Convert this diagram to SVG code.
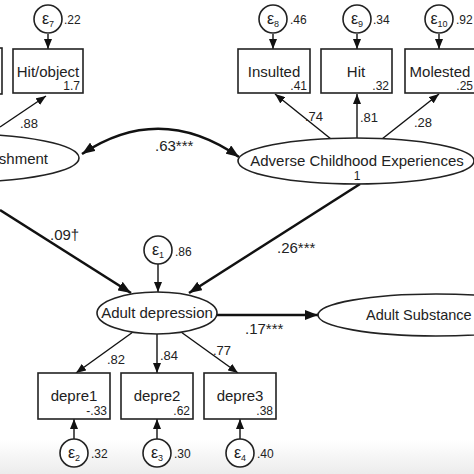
<svg xmlns="http://www.w3.org/2000/svg" width="474" height="474" viewBox="0 0 474 474">
<style>
text{font-family:"Liberation Sans",Arial,sans-serif;fill:#222}
.lbl{font-size:15px;text-anchor:middle}
.num{font-size:12px;text-anchor:end}
.el{font-size:13px}
.big{font-size:15px}
.var{font-size:12px}
.box{fill:#fff;stroke:#222;stroke-width:1.6}
.ell{fill:#fff;stroke:#222;stroke-width:1.6}
.err{fill:#fff;stroke:#222;stroke-width:1.6}
.eps{font-size:16px;text-anchor:middle}
.thin{fill:none;stroke:#111;stroke-width:1.4;marker-end:url(#ah)}
.thick{fill:none;stroke:#111;stroke-width:2.6;marker-end:url(#ahb)}
</style>
<defs>
<marker id="ah" viewBox="0 0 10 8" refX="10" refY="4" markerWidth="10" markerHeight="8" markerUnits="userSpaceOnUse" orient="auto"><path d="M0,0 L10,4 L0,8 z" fill="#111"/></marker>
<marker id="ahb" viewBox="0 0 13 10" refX="13" refY="5" markerWidth="13" markerHeight="10" markerUnits="userSpaceOnUse" orient="auto-start-reverse"><path d="M0,0 L13,5 L0,10 z" fill="#111"/></marker>
<linearGradient id="bg" x1="0" y1="0" x2="0" y2="1"><stop offset="0" stop-color="#fff"/><stop offset="1" stop-color="#ececec"/></linearGradient>
</defs>
<rect x="0" y="440" width="474" height="34" fill="url(#bg)"/>

<g id="connectors">
<path class="thin" d="M0,127 L46,96"/>
<path class="thick" d="M82,154 Q160,102 239,157" style="marker-start:url(#ahb)"/>
<path class="thin" d="M331,139 L275,94"/>
<path class="thin" d="M357,138 L357,94"/>
<path class="thin" d="M382,139 L439,94"/>
<path class="thin" d="M48,34 L48,49"/>
<path class="thin" d="M273,34 L273,49"/>
<path class="thin" d="M357,34 L357,49"/>
<path class="thin" d="M439,34 L439,49"/>
<path class="thick" d="M0,210 L131,293"/>
<path class="thick" d="M360,184 L189,293"/>
<path class="thin" d="M158,264 L158,292"/>
<path class="thick" d="M217,315 L318,315"/>
<path class="thin" d="M133,332 L76,373"/>
<path class="thin" d="M157,334 L157,373"/>
<path class="thin" d="M181,332 L238,373"/>
<path class="thin" d="M74,439 L74,419"/>
<path class="thin" d="M157,439 L157,419"/>
<path class="thin" d="M240,439 L240,419"/>
<text class="el" x="20" y="128">.88</text>
<text class="big" x="155" y="151">.63***</text>
<text class="el" x="305" y="121">.74</text>
<text class="el" x="360" y="122">.81</text>
<text class="el" x="414" y="127">.28</text>
<text class="big" x="50" y="240">.09†</text>
<text class="big" x="277" y="253">.26***</text>
<text class="big" x="245" y="334">.17***</text>
<text class="el" x="107" y="364">.82</text>
<text class="el" x="160" y="360">.84</text>
<text class="el" x="213" y="355">.77</text>
</g>

<g id="box-left-partial"><rect class="box" x="-70" y="48" width="72" height="46"/></g>

<g id="hitobject">
<rect class="box" x="13" y="49" width="70" height="44"/>
<text class="lbl" x="48" y="77">Hit/object</text>
<text class="num" x="80" y="90">1.7</text>
</g>
<g id="e7">
<circle class="err" cx="48" cy="19" r="14"/>
<text class="eps" x="48" y="24">ε<tspan font-size="9" dy="3">7</tspan></text>
<text class="var" x="64" y="24">.22</text>
</g>

<g id="insulted">
<rect class="box" x="238" y="49" width="72" height="44"/>
<text class="lbl" x="274" y="77">Insulted</text>
<text class="num" x="307" y="90">.41</text>
</g>
<g id="e8">
<circle class="err" cx="273" cy="19" r="14"/>
<text class="eps" x="273" y="24">ε<tspan font-size="9" dy="3">8</tspan></text>
<text class="var" x="290" y="24">.46</text>
</g>

<g id="hit">
<rect class="box" x="321" y="49" width="71" height="44"/>
<text class="lbl" x="356" y="77">Hit</text>
<text class="num" x="389" y="90">.32</text>
</g>
<g id="e9">
<circle class="err" cx="357" cy="19" r="14"/>
<text class="eps" x="357" y="24">ε<tspan font-size="9" dy="3">9</tspan></text>
<text class="var" x="373" y="24">.34</text>
</g>

<g id="molested">
<rect class="box" x="405" y="49" width="72" height="44"/>
<text class="lbl" x="440" y="77">Molested</text>
<text class="num" x="473" y="90">.25</text>
</g>
<g id="e10">
<circle class="err" cx="439" cy="19" r="14"/>
<text class="eps" x="439" y="24">ε<tspan font-size="9" dy="3">10</tspan></text>
<text class="var" x="456" y="24">.92</text>
</g>

<g id="punishment">
<ellipse class="ell" cx="-39" cy="158" rx="118" ry="24"/>
<text class="lbl" x="48" y="164" style="text-anchor:end">shment</text>
</g>

<g id="ace">
<ellipse class="ell" cx="356" cy="161" rx="118" ry="23"/>
<text class="lbl" x="357" y="166">Adverse Childhood Experiences</text>
<text class="var" x="357" y="180" text-anchor="middle">1</text>
</g>

<g id="e1">
<circle class="err" cx="158" cy="250" r="14"/>
<text class="eps" x="158" y="255">ε<tspan font-size="9" dy="3">1</tspan></text>
<text class="var" x="175" y="256">.86</text>
</g>

<g id="depression">
<ellipse class="ell" cx="157" cy="313" rx="60" ry="21"/>
<text class="lbl" x="157" y="318">Adult depression</text>
</g>

<g id="substance">
<ellipse class="ell" cx="436" cy="315" rx="118" ry="21"/>
<text class="lbl" x="366" y="320" style="text-anchor:start;font-size:14.5px">Adult Substance</text>
</g>

<g id="depre1">
<rect class="box" x="38" y="373" width="72" height="46"/>
<text class="lbl" x="74" y="401">depre1</text>
<text class="num" x="107" y="415">-.33</text>
</g>
<g id="depre2">
<rect class="box" x="121" y="373" width="72" height="46"/>
<text class="lbl" x="157" y="401">depre2</text>
<text class="num" x="190" y="415">.62</text>
</g>
<g id="depre3">
<rect class="box" x="204" y="373" width="72" height="46"/>
<text class="lbl" x="240" y="401">depre3</text>
<text class="num" x="273" y="415">.38</text>
</g>

<g id="e2">
<circle class="err" cx="74" cy="453" r="14"/>
<text class="eps" x="74" y="458">ε<tspan font-size="9" dy="3">2</tspan></text>
<text class="var" x="91" y="458">.32</text>
</g>
<g id="e3">
<circle class="err" cx="157" cy="453" r="14"/>
<text class="eps" x="157" y="458">ε<tspan font-size="9" dy="3">3</tspan></text>
<text class="var" x="174" y="458">.30</text>
</g>
<g id="e4">
<circle class="err" cx="240" cy="453" r="14"/>
<text class="eps" x="240" y="458">ε<tspan font-size="9" dy="3">4</tspan></text>
<text class="var" x="257" y="458">.40</text>
</g>
</svg>
